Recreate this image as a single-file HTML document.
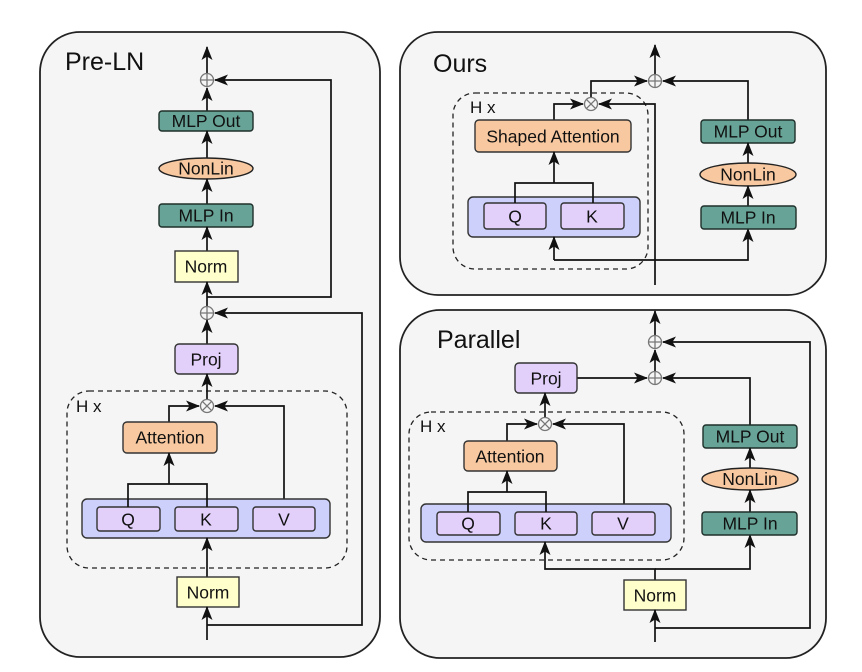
<!DOCTYPE html>
<html><head><meta charset="utf-8"><style>
html,body{margin:0;padding:0;background:#fff;}
svg{display:block;}
text{font-family:"Liberation Sans",Arial,sans-serif;fill:#111;}
.lbl{font-size:17.5px;text-anchor:middle;}
.ttl{font-size:25px;}
.hx{font-size:17px;}
.ln{stroke:#111;stroke-width:1.7;fill:none;}
.panel{fill:#f5f5f5;stroke:#222;stroke-width:1.8;}
.dash{fill:none;stroke:#222;stroke-width:1.3;stroke-dasharray:5 4;}
.mlp{fill:#67a396;stroke:#1e2f2a;stroke-width:1.4;}
.nl{fill:#f8c9a0;stroke:#222;stroke-width:1.4;}
.att{fill:#f8c9a0;stroke:#333;stroke-width:1.4;}
.norm{fill:#ffffcc;stroke:#333;stroke-width:1.4;}
.pur{fill:#e2cffa;stroke:#333;stroke-width:1.4;}
.cont{fill:#cdd0fa;stroke:#333;stroke-width:1.4;}
.op{fill:none;stroke:#777;stroke-width:1.3;}
</style></head><body>
<svg width="862" height="672" viewBox="0 0 862 672" xmlns="http://www.w3.org/2000/svg">
<defs>
<marker id="a" viewBox="0 0 14 11" refX="13" refY="5.5" markerWidth="14" markerHeight="11" markerUnits="userSpaceOnUse" orient="auto">
<path d="M0,0 L14,5.5 L0,11 L3.5,5.5 Z" fill="#111"/>
</marker>
<g id="plus"><circle r="6.5" class="op"/><path d="M-6.5,0H6.5M0,-6.5V6.5" class="op"/></g>
<g id="times"><circle r="6.5" class="op"/><path d="M-4.6,-4.6L4.6,4.6M-4.6,4.6L4.6,-4.6" class="op"/></g>
</defs>

<!-- ===== Pre-LN ===== -->
<rect class="panel" x="40" y="32" width="340" height="625" rx="40"/>
<text class="ttl" x="65" y="70">Pre-LN</text>
<path class="ln" d="M207,73 V47" marker-end="url(#a)"/>
<use href="#plus" x="207" y="80"/>
<path class="ln" d="M207,111 V88" marker-end="url(#a)"/>
<path class="ln" d="M207,297 H331 V80 H215" marker-end="url(#a)"/>
<rect class="mlp" x="159" y="111" width="94" height="20" rx="3"/>
<text class="lbl" x="206" y="127">MLP Out</text>
<path class="ln" d="M207,158 V131" marker-end="url(#a)"/>
<ellipse class="nl" cx="206" cy="168.5" rx="47" ry="10.5"/>
<text class="lbl" x="206" y="174.5">NonLin</text>
<path class="ln" d="M207,204 V179" marker-end="url(#a)"/>
<rect class="mlp" x="159" y="204" width="94" height="23" rx="3"/>
<text class="lbl" x="206" y="221.5">MLP In</text>
<path class="ln" d="M207,251 V227" marker-end="url(#a)"/>
<rect class="norm" x="175" y="251" width="63" height="31"/>
<text class="lbl" x="206" y="272.5">Norm</text>
<path class="ln" d="M207,306 V282" marker-end="url(#a)"/>
<use href="#plus" x="207" y="313"/>
<path class="ln" d="M207,625 H362 V313 H215" marker-end="url(#a)"/>
<path class="ln" d="M207,344 V320" marker-end="url(#a)"/>
<rect class="pur" x="175" y="344" width="63" height="30" rx="4"/>
<text class="lbl" x="206" y="365.5">Proj</text>
<rect class="dash" x="67" y="391" width="280" height="177" rx="22"/>
<text class="hx" x="76" y="412">H x</text>
<path class="ln" d="M207,399 V374" marker-end="url(#a)"/>
<use href="#times" x="207" y="406"/>
<path class="ln" d="M169,422 V406 H199" marker-end="url(#a)"/>
<path class="ln" d="M284,507 V406 H215" marker-end="url(#a)"/>
<rect class="att" x="123" y="422" width="94" height="31" rx="4"/>
<text class="lbl" x="170" y="443.5">Attention</text>
<rect class="cont" x="82" y="499" width="248" height="39" rx="5"/>
<rect class="pur" x="97" y="507" width="63" height="24" rx="3"/>
<text class="lbl" x="128" y="525.5">Q</text>
<rect class="pur" x="175" y="507" width="63" height="24" rx="3"/>
<text class="lbl" x="206" y="525.5">K</text>
<rect class="pur" x="253" y="507" width="62" height="24" rx="3"/>
<text class="lbl" x="284" y="525.5">V</text>
<path class="ln" d="M128,507 V484 H207 V507"/>
<path class="ln" d="M169,484 V453" marker-end="url(#a)"/>
<path class="ln" d="M207,577 V538" marker-end="url(#a)"/>
<rect class="norm" x="177" y="577" width="62" height="30"/>
<text class="lbl" x="208" y="598.5">Norm</text>
<path class="ln" d="M207,640 V607" marker-end="url(#a)"/>

<!-- ===== Ours ===== -->
<rect class="panel" x="400" y="32" width="426" height="263" rx="38"/>
<text class="ttl" x="433" y="72">Ours</text>
<path class="ln" d="M655,74 V45" marker-end="url(#a)"/>
<use href="#plus" x="655" y="81"/>
<path class="ln" d="M591,97 V81 H647" marker-end="url(#a)"/>
<path class="ln" d="M748,120 V81 H663" marker-end="url(#a)"/>
<rect class="dash" x="453" y="93" width="195" height="176" rx="22"/>
<text class="hx" x="470" y="113">H x</text>
<use href="#times" x="591" y="104"/>
<path class="ln" d="M554,120 V104 H583" marker-end="url(#a)"/>
<path class="ln" d="M655,285 V104 H599" marker-end="url(#a)"/>
<rect class="att" x="475" y="120" width="156" height="32" rx="4"/>
<text class="lbl" x="553" y="142.5">Shaped Attention</text>
<rect class="cont" x="468" y="197" width="172" height="40" rx="5"/>
<rect class="pur" x="484" y="203" width="62" height="26" rx="3"/>
<text class="lbl" x="515" y="222.5">Q</text>
<rect class="pur" x="561" y="203" width="63" height="26" rx="3"/>
<text class="lbl" x="592" y="222.5">K</text>
<path class="ln" d="M515,203 V183 H593 V203"/>
<path class="ln" d="M554,183 V152" marker-end="url(#a)"/>
<path class="ln" d="M554,260 V237" marker-end="url(#a)"/>
<path class="ln" d="M554,260 H748 V229" marker-end="url(#a)"/>
<rect class="mlp" x="701" y="120" width="94" height="23" rx="3"/>
<text class="lbl" x="748" y="137.5">MLP Out</text>
<path class="ln" d="M748,163 V143" marker-end="url(#a)"/>
<ellipse class="nl" cx="748" cy="174.5" rx="48" ry="11.5"/>
<text class="lbl" x="748" y="180.5">NonLin</text>
<path class="ln" d="M748,206 V186" marker-end="url(#a)"/>
<rect class="mlp" x="701" y="206" width="95" height="23" rx="3"/>
<text class="lbl" x="748" y="223.5">MLP In</text>

<!-- ===== Parallel ===== -->
<rect class="panel" x="400" y="310" width="426" height="348" rx="40"/>
<text class="ttl" x="437" y="348">Parallel</text>
<path class="ln" d="M655,335 V311" marker-end="url(#a)"/>
<use href="#plus" x="655" y="342"/>
<path class="ln" d="M655,371 V350" marker-end="url(#a)"/>
<use href="#plus" x="655" y="378"/>
<path class="ln" d="M655,628 H810 V342 H663" marker-end="url(#a)"/>
<path class="ln" d="M577,378 H647" marker-end="url(#a)"/>
<path class="ln" d="M750,425 V378 H663" marker-end="url(#a)"/>
<rect class="pur" x="515" y="363" width="62" height="30" rx="4"/>
<text class="lbl" x="546" y="384.5">Proj</text>
<rect class="dash" x="409" y="412" width="275" height="148" rx="22"/>
<text class="hx" x="420" y="432">H x</text>
<path class="ln" d="M545,417 V393" marker-end="url(#a)"/>
<use href="#times" x="545" y="424"/>
<path class="ln" d="M507,441 V424 H537" marker-end="url(#a)"/>
<path class="ln" d="M624,512 V424 H553" marker-end="url(#a)"/>
<rect class="att" x="464" y="441" width="93" height="30" rx="4"/>
<text class="lbl" x="510" y="462.5">Attention</text>
<rect class="cont" x="421" y="504" width="250" height="38" rx="5"/>
<rect class="pur" x="437" y="512" width="63" height="23" rx="3"/>
<text class="lbl" x="468" y="529.5">Q</text>
<rect class="pur" x="515" y="512" width="62" height="23" rx="3"/>
<text class="lbl" x="546" y="529.5">K</text>
<rect class="pur" x="592" y="512" width="63" height="23" rx="3"/>
<text class="lbl" x="623" y="529.5">V</text>
<path class="ln" d="M468,512 V492 H546 V512"/>
<path class="ln" d="M507,492 V471" marker-end="url(#a)"/>
<path class="ln" d="M655,580 V569 H545 V542" marker-end="url(#a)"/>
<path class="ln" d="M655,569 H750 V535" marker-end="url(#a)"/>
<rect class="norm" x="624" y="580" width="62" height="30"/>
<text class="lbl" x="655" y="601.5">Norm</text>
<path class="ln" d="M655,642 V610" marker-end="url(#a)"/>
<rect class="mlp" x="703" y="425" width="94" height="23" rx="3"/>
<text class="lbl" x="750" y="442.5">MLP Out</text>
<path class="ln" d="M750,468 V448" marker-end="url(#a)"/>
<ellipse class="nl" cx="750" cy="479" rx="48" ry="11"/>
<text class="lbl" x="750" y="485">NonLin</text>
<path class="ln" d="M750,512 V490" marker-end="url(#a)"/>
<rect class="mlp" x="702" y="512" width="95" height="23" rx="3"/>
<text class="lbl" x="750" y="529.5">MLP In</text>
</svg>
</body></html>
